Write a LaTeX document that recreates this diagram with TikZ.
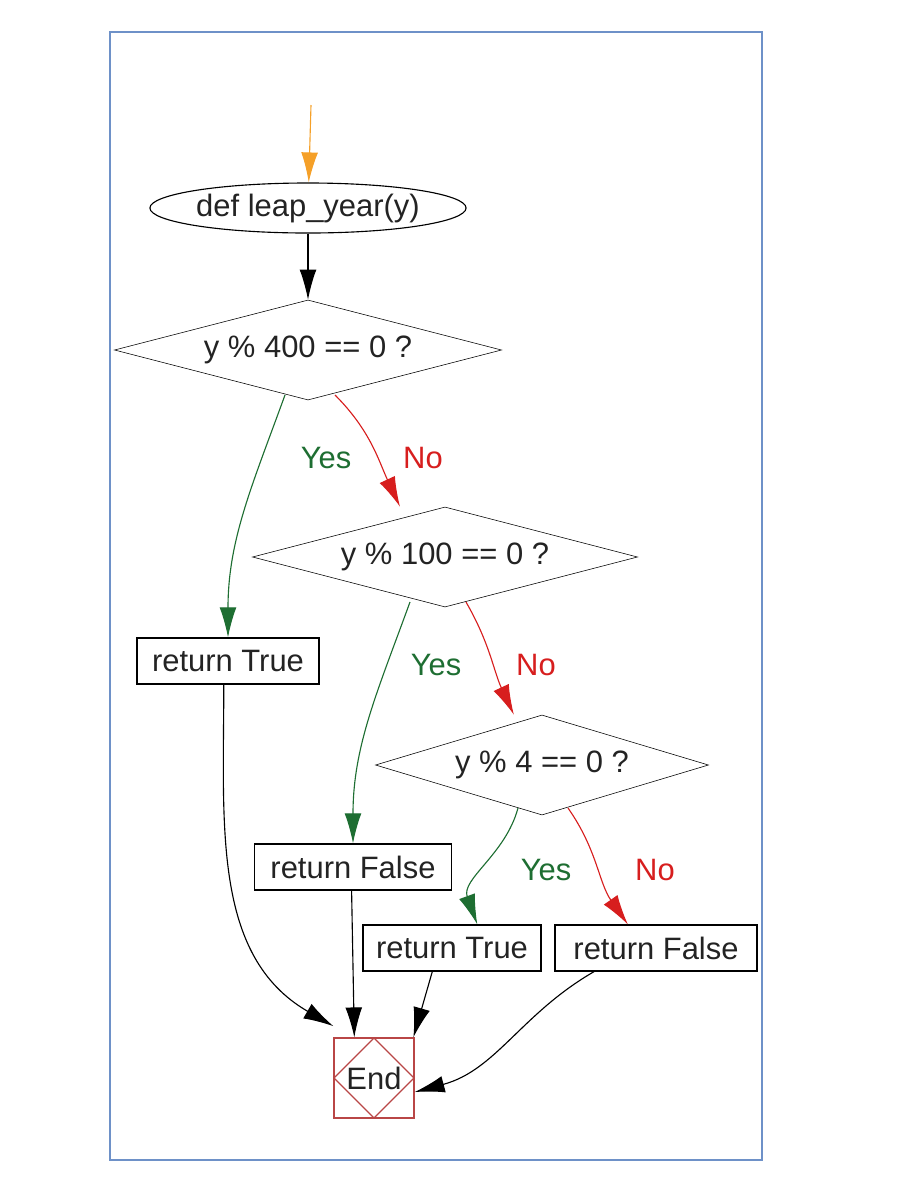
\documentclass[tikz,border=0pt]{standalone}
\usepackage{fontspec}
\setmainfont{Liberation Sans}
\usetikzlibrary{shapes.geometric, arrows.meta, positioning, calc}
\definecolor{frameblue}{RGB}{110,145,200}
\definecolor{yesgreen}{RGB}{30,110,50}
\definecolor{nored}{RGB}{215,30,30}
\definecolor{endred}{RGB}{185,70,70}
\definecolor{txt}{RGB}{35,35,35}
\definecolor{startorange}{RGB}{245,160,40}
\tikzset{
  box/.style={rectangle, draw, thick, text=txt, inner sep=0pt, minimum height=1.15cm},
  decision/.style={diamond, draw, inner sep=0pt, text=txt, minimum height=2.5cm},
  flow/.style={-{Latex[length=0.75cm, width=0.42cm]}, thick},
  yes/.style={flow, yesgreen},
  no/.style={flow, nored},
  lbl/.style={inner sep=0pt}
}
\begin{document}
\begin{tikzpicture}[x=0.025cm, y=-0.025cm, font=\fontsize{22}{26}\selectfont]
  \useasboundingbox (0,0) rectangle (924,1180);
  \draw[frameblue, thick] (110,32) rectangle (762,1160);

  % Nodes
  \coordinate (top) at (311,105);
  \node (def) [ellipse, draw, thick, text=txt, inner sep=0pt, minimum width=6.75cm, minimum height=1.25cm] at (308,208) {def leap\_year(y)};
  \node (d1) [decision, shape aspect=3.87, minimum width=9.675cm] at (308,350) {y \% 400 == 0 ?};
  \node (d2) [decision, shape aspect=3.85, minimum width=9.625cm] at (445,557) {y \% 100 == 0 ?};
  \node (d3) [decision, shape aspect=3.33, minimum width=8.325cm] at (542,765) {y \% 4 == 0 ?};
  \node (rt1) [box, minimum width=4.55cm] at (228,661) {return True};
  \node (rf1) [box, minimum width=4.925cm] at (353,867) {return False};
  \node (rt2) [box, minimum width=4.45cm] at (452,948) {return True};
  \node (rf2) [box, minimum width=5.05cm] at (656,948) {return False};
  \node (end) [rectangle, draw=endred, thick, text=txt, minimum size=2cm, inner sep=0pt,
    path picture={\draw[endred, thick] (path picture bounding box.north) -- (path picture bounding box.east)
      -- (path picture bounding box.south) -- (path picture bounding box.west) -- cycle;}] at (374,1078) {End};

  % Arrows
  \draw[flow, startorange] (top) -- (def);
  \draw[flow] (def) -- (d1);
  \draw[yes] ($(d1)+(-23,45)$) to[out=-110, in=90] (rt1.north);
  \draw[no] ($(d1)+(27,45)$) to[out=-45, in=115] ([xshift=-32]d2.north);
  \draw[yes] ($(d2)+(-35,45)$) to[out=-110, in=90] (rf1.north);
  \draw[no] ($(d2)+(21,45)$) to[out=-60, in=115] ([xshift=-20]d3.north);
  \draw[yes] ($(d3)+(-24,43)$) to[out=-105, in=110] ([xshift=18]rt2.north);
  \draw[no] ($(d3)+(26,43)$) to[out=-55, in=125] ([xshift=-20]rf2.north);
  \draw[flow] ([xshift=-3]rt1.south) to[out=-90, in=150] ([yshift=8]end.north west);
  \draw[flow] ([xshift=-1]rf1.south) -- ([xshift=-14]end.north);
  \draw[flow] ([xshift=-14]rt2.south) -- ([xshift=28]end.north);
  \draw[flow] ([xshift=-44]rf2.south) to[out=-150, in=15] ([yshift=-10]end.east);

  % Labels
  \node[lbl, text=yesgreen] at (326,458) {Yes};
  \node[lbl, text=nored] at (423,458) {No};
  \node[lbl, text=yesgreen] at (436,665) {Yes};
  \node[lbl, text=nored] at (536,665) {No};
  \node[lbl, text=yesgreen] at (546,870) {Yes};
  \node[lbl, text=nored] at (655,870) {No};
\end{tikzpicture}
\end{document}
